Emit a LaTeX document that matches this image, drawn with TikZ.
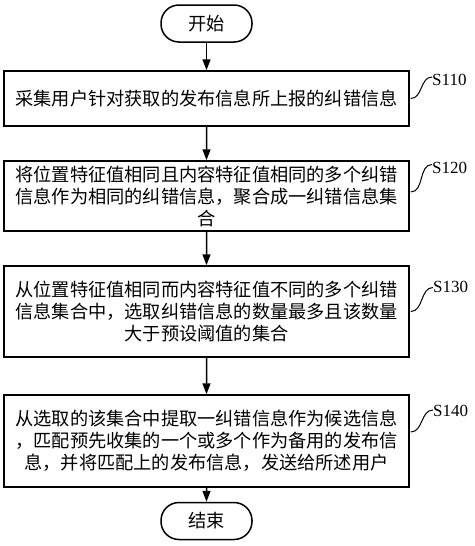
\documentclass[tikz,border=0pt]{standalone}
\usepackage{fontspec}
\setmainfont{Liberation Serif}
\newfontfamily\cjk{Noto Sans CJK SC}
\usetikzlibrary{arrows.meta}
\begin{document}
\begin{tikzpicture}[
            x=1pt, y=1pt,
            term/.style={draw, line width=1.5pt, rounded corners=18pt, minimum width=91pt, minimum height=37pt, inner sep=0pt, font={\fontsize{18.2pt}{22pt}\cjk}},
            stepbox/.style={draw, line width=1.5pt, minimum width=405pt, inner xsep=0pt, inner ysep=4pt, align=center, font={\fontsize{18.2pt}{22pt}\cjk}},
            steplabel/.style={anchor=west, inner sep=0pt, font={\fontsize{17pt}{20pt}\selectfont}},
            edge from parent/.style={draw, line width=1.5pt, -{Triangle[length=11pt,width=8pt]}},
            tag/.style={line width=1pt}
            ]
        \useasboundingbox (0,0) rectangle (474,-546);
        % main flow
        \node[term] (start) at (206.5,-23.5) {开始}
            child[level distance=75pt] { node[stepbox, minimum height=55pt] (s110) {采集用户针对获取的发布信息所上报的纠错信息}
                child[level distance=97.5pt] { node[stepbox, minimum height=70pt] (s120) {将位置特征值相同且内容特征值相同的多个纠错\\信息作为相同的纠错信息，聚合成一纠错信息集\\合}
                    child[level distance=115.5pt] { node[stepbox, minimum height=91pt] (s130) {从位置特征值相同而内容特征值不同的多个纠错\\信息集合中，选取纠错信息的数量最多且该数量\\大于预设阈值的集合}
                        child[level distance=129.5pt] { node[stepbox, minimum height=92pt] (s140) {从选取的该集合中提取一纠错信息作为候选信息\\，匹配预先收集的一个或多个作为备用的发布信\\息，并将匹配上的发布信息，发送给所述用户}
                            child[level distance=80pt] { node[term] (end) {结束} }
                        }
                    }
                }
            };
        % step labels
        \node[steplabel] (l110) at (432,-80) {S110};
        \node[steplabel] (l120) at (432,-167.5) {S120};
        \node[steplabel] (l130) at (433,-286.5) {S130};
        \node[steplabel] (l140) at (433,-411) {S140};
        \draw[tag] ([xshift=1pt]s110.east) to[out=0, in=180] ([yshift=3pt]l110.west);
        \draw[tag] ([xshift=1pt, yshift=4pt]s120.east) to[out=0, in=180] ([yshift=3pt]l120.west);
        \draw[tag] ([xshift=1pt]s130.east) to[out=0, in=180] ([yshift=-1pt]l130.west);
        \draw[tag] ([xshift=1pt, yshift=9pt]s140.east) to[out=0, in=180] ([yshift=1pt]l140.west);
\end{tikzpicture}
\end{document}
